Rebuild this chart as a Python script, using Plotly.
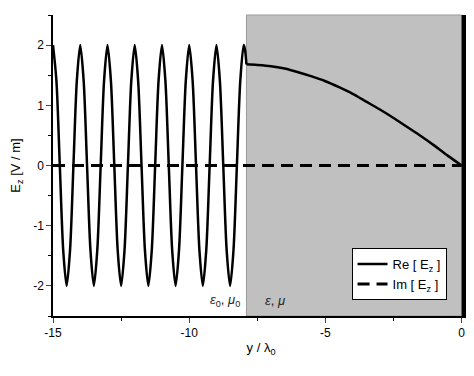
import plotly.graph_objects as go

# Re[Ez] in free space (y / lambda0, value)
vac_x = [-15, -14.875, -14.75, -14.625, -14.5, -14.375, -14.25, -14.125,
         -14, -13.875, -13.75, -13.625, -13.5, -13.375, -13.25, -13.125,
         -13, -12.875, -12.75, -12.625, -12.5, -12.375, -12.25, -12.125,
         -12, -11.875, -11.75, -11.625, -11.5, -11.375, -11.25, -11.125,
         -11, -10.875, -10.75, -10.625, -10.5, -10.375, -10.25, -10.125,
         -10, -9.875, -9.75, -9.625, -9.5, -9.375, -9.25, -9.125,
         -9, -8.875, -8.75, -8.625, -8.5, -8.375, -8.25, -8.125,
         -8, -7.95, -7.9]
vac_y = [2, 1.41, 0, -1.41, -2, -1.41, 0, 1.41,
         2, 1.41, 0, -1.41, -2, -1.41, 0, 1.41,
         2, 1.41, 0, -1.41, -2, -1.41, 0, 1.41,
         2, 1.41, 0, -1.41, -2, -1.41, 0, 1.41,
         2, 1.41, 0, -1.41, -2, -1.41, 0, 1.41,
         2, 1.41, 0, -1.41, -2, -1.41, 0, 1.41,
         2, 1.41, 0, -1.41, -2, -1.41, 0, 1.41,
         2, 1.92, 1.68]

# Re[Ez] inside the medium
med_x = [-7.9, -7.5, -7, -6.5, -6, -5.5, -5, -4.5, -4, -3.5, -3,
         -2.5, -2, -1.5, -1, -0.5, 0]
med_y = [1.68, 1.67, 1.65, 1.61, 1.55, 1.48, 1.40, 1.30, 1.19, 1.06, 0.93,
         0.79, 0.64, 0.49, 0.33, 0.16, 0]

im_x = [-15, 0]
im_y = [0, 0]

boundary_x = -7.9
wall_x = [0, 0.27]
x_ticks = [-15, -10, -5, 0]
x_labels = ["-15", "-10", "-5", "0"]
y_ticks = [-2, -1, 0, 1, 2]
y_labels = ["-2", "-1", "0", "1", "2"]

FONT = "Liberation Sans, Arial, sans-serif"

fig = go.Figure()
fig.add_trace(go.Scatter(x=vac_x, y=vac_y, mode="lines", name="Re [ E<sub>z</sub> ]",
                         legendgroup="re",
                         line=dict(color="black", width=2.5, shape="spline", smoothing=0.8)))
fig.add_trace(go.Scatter(x=med_x, y=med_y, mode="lines", name="Re [ E<sub>z</sub> ]",
                         legendgroup="re", showlegend=False,
                         line=dict(color="black", width=2.5, shape="spline", smoothing=0.8)))
fig.add_trace(go.Scatter(x=im_x, y=im_y, mode="lines", name="Im [ E<sub>z</sub> ]",
                         line=dict(color="black", width=3, dash="12px,7px")))

# gray medium region and black wall
fig.add_shape(type="rect", xref="x", yref="paper", x0=boundary_x, x1=0, y0=0, y1=1,
              fillcolor="#c0c0c0", line=dict(color="#9a9a9a", width=1), layer="below")
fig.add_shape(type="rect", xref="x", yref="paper", x0=wall_x[0], x1=wall_x[1], y0=0, y1=1,
              fillcolor="black", line=dict(width=0), layer="above")

fig.add_annotation(x=-8.05, y=-2.25, text="<i>ε</i><sub>0</sub>, <i>μ</i><sub>0</sub>",
                   showarrow=False, xanchor="right", font=dict(size=13, color="#222", family=FONT))
fig.add_annotation(x=-6.85, y=-2.25, text="<i>ε</i>, <i>μ</i>",
                   showarrow=False, xanchor="center", font=dict(size=13, color="#222", family=FONT))

# page body has an 8px default margin, so the figure is sized to fit the window
fig.update_layout(
    width=466, height=360,
    margin=dict(l=45, r=5, t=7, b=52),
    paper_bgcolor="white", plot_bgcolor="white",
    font=dict(family=FONT, size=12, color="black"),
    showlegend=True,
    legend=dict(x=0.946, y=0.053, xanchor="right", yanchor="bottom",
                bgcolor="white", bordercolor="black", borderwidth=1,
                font=dict(size=13), tracegroupgap=0),
    xaxis=dict(range=[-15, 0.27], tickvals=x_ticks, ticktext=x_labels, ticks="outside", ticklen=5,
               tickwidth=1, showline=True, linecolor="black", linewidth=1.5,
               showgrid=False, zeroline=False, automargin=False,
               minor=dict(tickvals=[-12.5, -7.5, -2.5], ticks="outside", ticklen=3, tickcolor="black"),
               title=dict(text="y / λ<sub>0</sub>", font=dict(size=13), standoff=4)),
    yaxis=dict(range=[-2.5, 2.5], tickvals=y_ticks, ticktext=y_labels, ticks="outside", ticklen=5,
               tickwidth=1, showline=True, linecolor="black", linewidth=1.5,
               showgrid=False, zeroline=False, automargin=False,
               minor=dict(tickvals=[-2.5, -1.5, -0.5, 0.5, 1.5, 2.5], ticks="outside", ticklen=3, tickcolor="black"),
               title=dict(text="E<sub>z</sub> [V / m]", font=dict(size=13), standoff=12)),
)

fig.write_html("out.html")
